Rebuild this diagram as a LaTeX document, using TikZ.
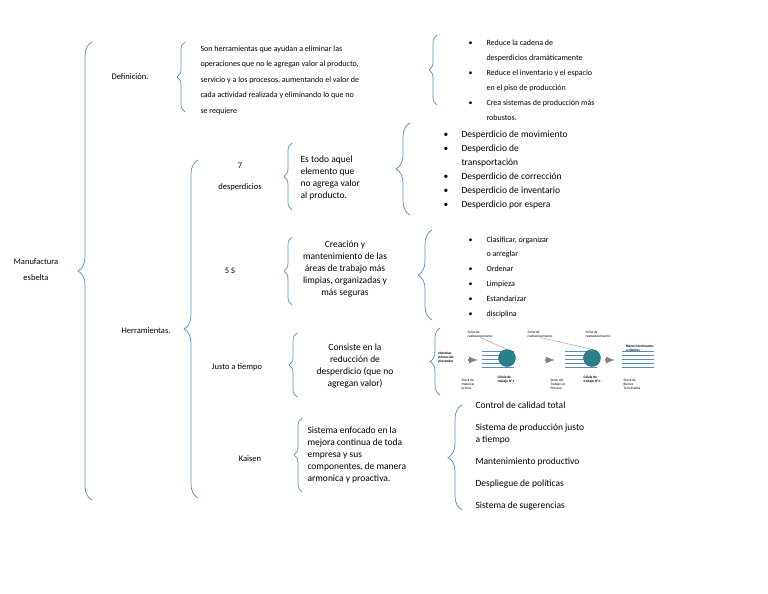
\documentclass[tikz,border=0pt]{standalone}
\usepackage{fontspec}
\setmainfont{Carlito}
\usetikzlibrary{decorations.pathreplacing,positioning}
\definecolor{bracecol}{RGB}{84,141,190}
\definecolor{cellcol}{RGB}{40,130,140}
\begin{document}
\begin{tikzpicture}[x=1pt,y=-1pt]
    \tikzstyle{brace}=[draw=bracecol,line width=0.7pt,decorate,decoration={brace,amplitude=8pt,aspect=0.5}]
    \tikzstyle{small}=[font=\fontsize{8}{15.5}\selectfont,align=left]
    \tikzstyle{label}=[font=\fontsize{8.5}{16}\selectfont,align=center]
    \tikzstyle{body}=[font=\fontsize{9.5}{12}\selectfont,align=center]
    \tikzstyle{tiny}=[font=\fontsize{3.5}{4}\selectfont,align=left,inner sep=0pt]
    \useasboundingbox (0,0) rectangle (768,594);

    % Braces, drawn bottom to top
    \draw[brace,decoration={amplitude=14pt}] (92,500) -- (92,42);
    \draw[brace] (185,112) -- (185,42);
    \draw[brace,decoration={amplitude=14pt}] (198,498) -- (198,160);
    \draw[brace] (437,105) -- (437,35);
    \draw[brace] (292,210) -- (292,143);
    \draw[brace,decoration={amplitude=14pt}] (410,215) -- (410,123);
    \draw[brace] (292,305) -- (292,237);
    \draw[brace,decoration={amplitude=14pt}] (432,320) -- (432,230);
    \draw[brace] (297,397) -- (297,333);
    \draw[brace,decoration={amplitude=10pt}] (440,395) -- (440,328);
    \draw[brace] (302,492) -- (302,418);
    \draw[brace,decoration={amplitude=14pt}] (462,510) -- (462,405);

    % Left column
    \node[label] (me) at (36,270) {Manufactura\\esbelta};
    \node[label] (def) at (130,77) {Definición.};
    \node[label] (her) at (146,331) {Herramientas.};

    % Definition
    \node[small,anchor=west] (deftxt) at (197,80) {Son herramientas que ayudan a eliminar las\\operaciones que no le agregan valor al producto,\\servicio y a los procesos, aumentando el valor de\\cada actividad realizada y eliminando lo que no\\se requiere};
    \node[small,anchor=north west,font=\fontsize{8}{15}\selectfont] (benef) at (465,36) {%
        \makebox[18pt][l]{\textbullet}Reduce la cadena de\\
        \hspace*{18pt}desperdicios dramáticamente\\
        \makebox[18pt][l]{\textbullet}Reduce el inventario y el espacio\\
        \hspace*{18pt}en el piso de producción\\
        \makebox[18pt][l]{\textbullet}Crea sistemas de producción más\\
        \hspace*{18pt}robustos.};

    % Tools
    \node[label] (des) at (240,177) {7\\[5pt]desperdicios};
    \node[label] (cinco) at (230,271) {5 S};
    \node[label] (jat) at (237,367) {Justo a tiempo};
    \node[label] (kai) at (250,459) {Kaisen};

    \node[body,align=left,anchor=west] (destxt) at (297,178) {Es todo aquel\\elemento que\\no agrega valor\\al producto.};
    \node[body] (cintxt) at (345,269) {Creación y\\mantenimiento de las\\áreas de trabajo más\\limpias, organizadas y\\más seguras};
    \node[body] (jattxt) at (355,366) {Consiste en la\\reducción de\\desperdicio (que no\\agregan valor)};
    \node[body,align=left,anchor=west] (kaitxt) at (304,455) {Sistema enfocado en la\\mejora continua de toda\\empresa y sus\\componentes, de manera\\armonica y proactiva.};

    \node[body,align=left,anchor=north west,font=\fontsize{9.5}{14}\selectfont] (deslist) at (440,127) {%
        \makebox[18pt][l]{\textbullet}Desperdicio de movimiento\\
        \makebox[18pt][l]{\textbullet}Desperdicio de\\
        \hspace*{18pt}transportación\\
        \makebox[18pt][l]{\textbullet}Desperdicio de corrección\\
        \makebox[18pt][l]{\textbullet}Desperdicio de inventario\\
        \makebox[18pt][l]{\textbullet}Desperdicio por espera};
    \node[small,anchor=north west,font=\fontsize{8}{14.8}\selectfont] (cinlist) at (465,233) {%
        \makebox[18pt][l]{\textbullet}Clasificar, organizar\\
        \hspace*{18pt}o arreglar\\
        \makebox[18pt][l]{\textbullet}Ordenar\\
        \makebox[18pt][l]{\textbullet}Limpieza\\
        \makebox[18pt][l]{\textbullet}Estandarizar\\
        \makebox[18pt][l]{\textbullet}disciplina};
    \node[body,align=left,anchor=north west,font=\fontsize{9.5}{12}\selectfont] (kailist) at (472,398) {%
        Control de calidad total\\[10pt]
        Sistema de producción justo\\a tiempo\\[10pt]
        Mantenimiento productivo\\[10pt]
        Despliegue de políticas\\[10pt]
        Sistema de sugerencias};

    % Kanban sketch
    \foreach \name / \x in {1/482, 2/565, 3/622}
        \foreach \y in {0,...,4}
            \draw[bracecol,line width=0.4pt] (\x,351+\y*4) -- (\x+32,351+\y*4);
    \node[circle,fill=cellcol,draw=bracecol!60!black,minimum size=17pt,inner sep=0pt] (c1) at (507,358) {};
    \node[circle,fill=cellcol,draw=bracecol!60!black,minimum size=17pt,inner sep=0pt] (c2) at (592,358) {};
    \foreach \x in {468,545,605}
        \draw[-latex,line width=2pt,gray] (\x,360) -- (\x+10,360);
    \node[tiny,font=\fontsize{3.5}{4}\bfseries\itshape\selectfont] (mp) at (446,358) {Materias\\primas del\\proveedor};
    \node[tiny,font=\fontsize{3.5}{4}\bfseries\selectfont] (bt) at (640,348) {Bienes terminados,\\a clientes};
    \foreach \name / \x in {s1/480, s2/540, s3/598}
        \node[tiny,font=\fontsize{3.5}{4}\itshape\selectfont] (\name) at (\x,334) {Señal de\\reabastecimiento};
    \draw[gray,line width=0.3pt] (s1.south) -- (c1.north);
    \draw[gray,line width=0.3pt] (s2.south) -- (c2.north);
    \node[tiny] (st1) at (468,385) {Stock de\\Materias\\primas};
    \node[tiny,font=\fontsize{3.5}{4}\bfseries\selectfont] (cl1) at (506,380) {Célula de\\trabajo Nº1};
    \node[tiny] (st2) at (558,384) {Stock del\\Trabajo en\\Proceso};
    \node[tiny,font=\fontsize{3.5}{4}\bfseries\selectfont] (cl2) at (592,380) {Célula de\\trabajo Nºn};
    \node[tiny] (st3) at (632,384) {Stock de\\Bienes\\Terminados};
\end{tikzpicture}
\end{document}
